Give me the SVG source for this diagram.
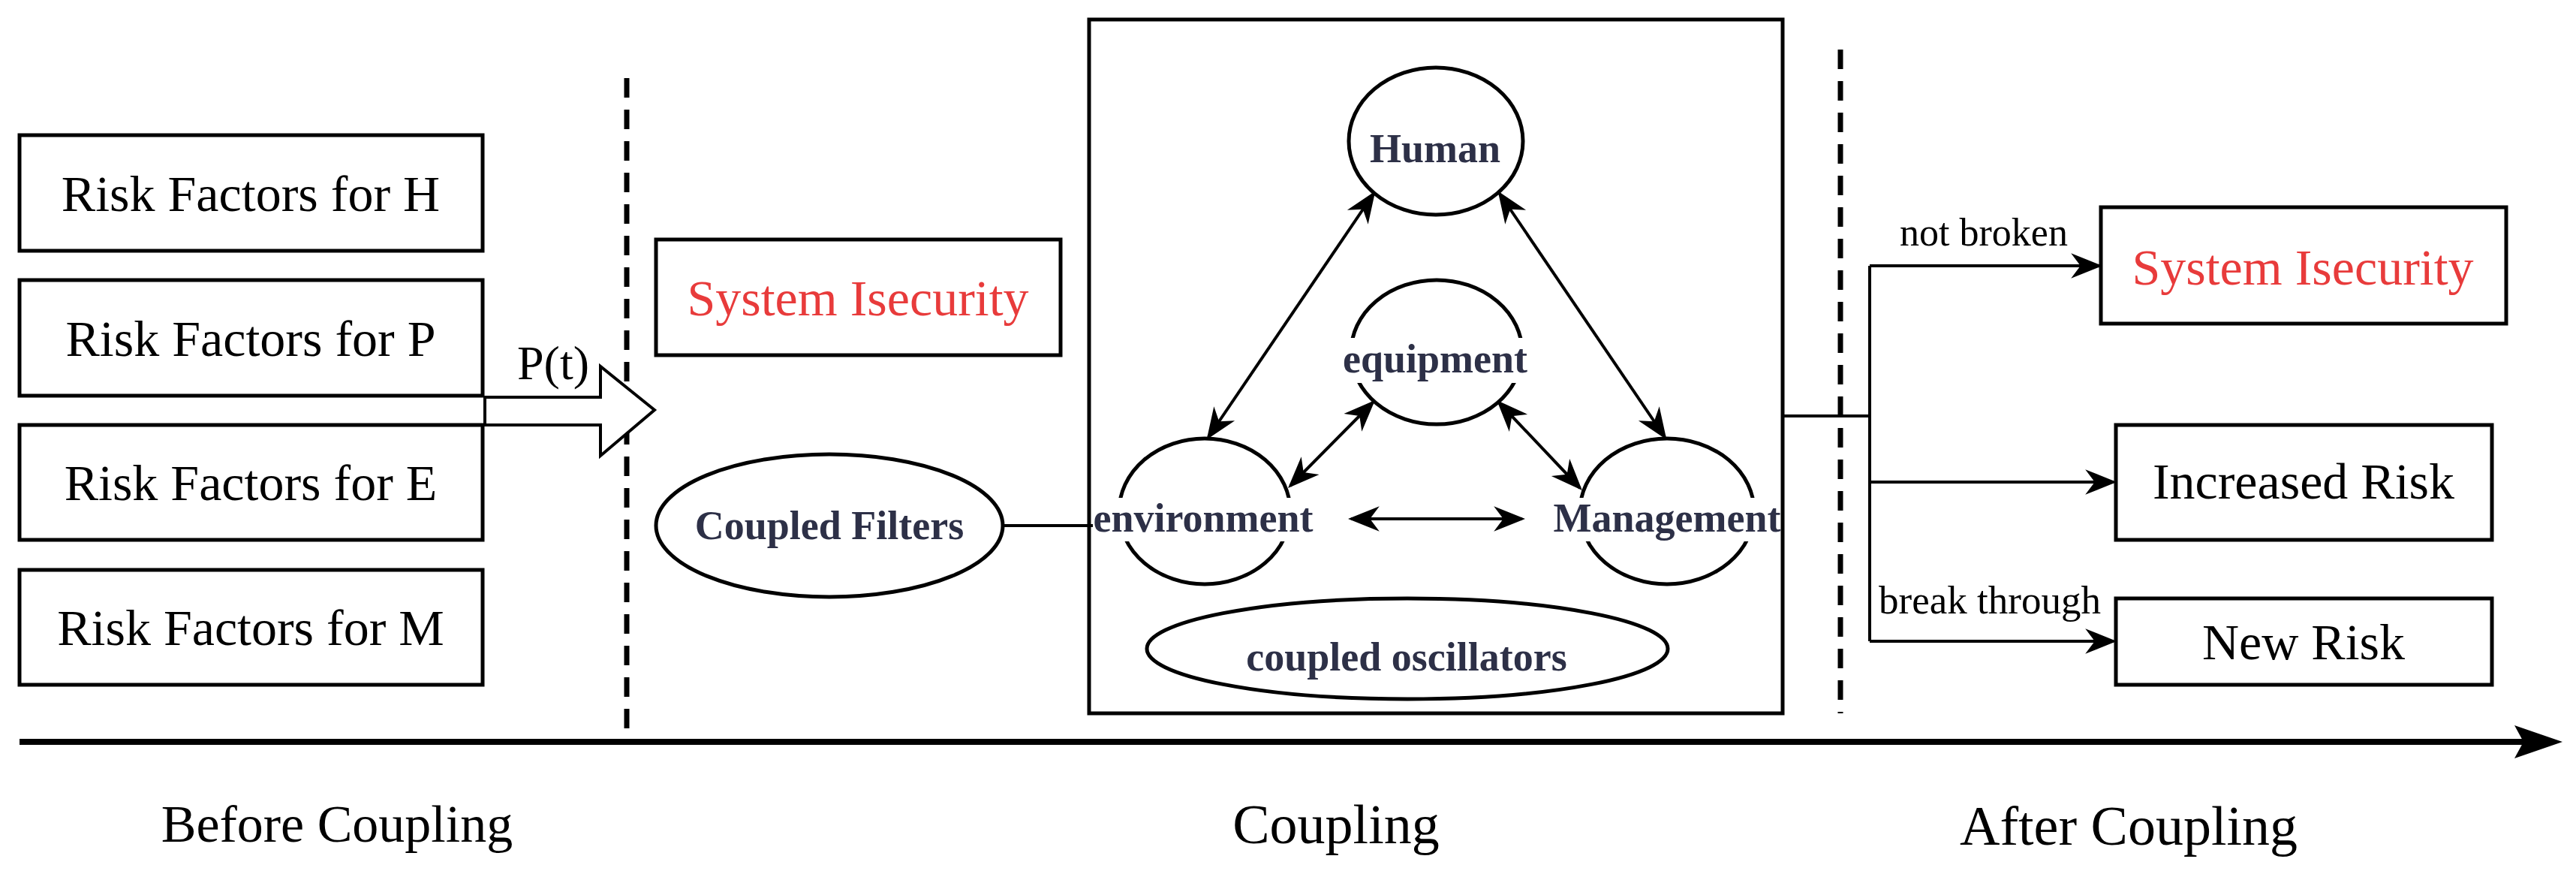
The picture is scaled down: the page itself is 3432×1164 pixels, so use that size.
<svg xmlns="http://www.w3.org/2000/svg" width="3432" height="1164" viewBox="0 0 3432 1164">
<style>
.box{fill:#fff;stroke:#000;stroke-width:5}
.frame{fill:none;stroke:#000;stroke-width:5}
.t{font-family:"Liberation Serif",serif;fill:#000;text-anchor:middle}
.big{font-size:68px}
.b{font-family:"Liberation Serif",serif;font-weight:bold;fill:#2d3047;font-size:54px;text-anchor:middle}
.red{fill:#e83b3b}
.ln{fill:none;stroke:#000;stroke-width:4}
.dash{stroke:#000;stroke-width:7;stroke-dasharray:26 16}
</style>
<defs>
<marker id="a2" viewBox="0 0 10 10" refX="9" refY="5" markerWidth="42" markerHeight="42" orient="auto-start-reverse" markerUnits="userSpaceOnUse">
<path d="M0,1 L10,5 L0,9 L3,5 z" fill="#000"/>
</marker>
</defs>
<rect width="3432" height="1164" fill="#fff"/>
<g id="couplingBox"><rect class="frame" x="1451" y="26" width="924" height="924"/></g>
<g id="dividers">
<line class="dash" x1="835" y1="104" x2="835" y2="987"/>
<line class="dash" x1="2452" y1="66" x2="2452" y2="950"/>
</g>
<g id="connectors">
<line x1="26" y1="988" x2="3380" y2="988" stroke="#000" stroke-width="8"/>
<path d="M3350,966 L3414,988 L3350,1010 L3362,988 z" fill="#000"/>
<polygon points="646,529 800,529 800,488 872,546 800,607 800,566 646,566" fill="#fff" stroke="#000" stroke-width="4"/>
<line class="ln" x1="1337" y1="700" x2="1460" y2="700"/>
<line class="ln" x1="1830" y1="258" x2="1610" y2="582" marker-start="url(#a2)" marker-end="url(#a2)"/>
<line class="ln" x1="1998" y1="258" x2="2218" y2="582" marker-start="url(#a2)" marker-end="url(#a2)"/>
<line class="ln" x1="1829" y1="536" x2="1719" y2="647" marker-start="url(#a2)" marker-end="url(#a2)"/>
<line class="ln" x1="1997" y1="536" x2="2105" y2="650" marker-start="url(#a2)" marker-end="url(#a2)"/>
<line class="ln" x1="1800" y1="691" x2="2028" y2="691" marker-start="url(#a2)" marker-end="url(#a2)"/>
<polyline class="ln" points="2375,554 2491,554"/>
<line class="ln" x1="2491" y1="354" x2="2491" y2="854"/>
<line class="ln" x1="2491" y1="354" x2="2797" y2="354" marker-end="url(#a2)"/>
<line class="ln" x1="2491" y1="642" x2="2816" y2="642" marker-end="url(#a2)"/>
<line class="ln" x1="2491" y1="854" x2="2816" y2="854" marker-end="url(#a2)"/>
<text class="t" x="2643" y="327" font-size="52">not broken</text>
<text class="t" x="2651" y="817" font-size="53">break through</text>
<text class="t" x="737" y="505" font-size="64">P(t)</text>
</g>
<g id="riskH"><rect class="box" x="26" y="180" width="617" height="154"/><text class="t big" x="334" y="281">Risk Factors for H</text></g>
<g id="riskP"><rect class="box" x="26" y="373" width="617" height="154"/><text class="t big" x="334" y="474">Risk Factors for P</text></g>
<g id="riskE"><rect class="box" x="26" y="566" width="617" height="153"/><text class="t big" x="334" y="666">Risk Factors for E</text></g>
<g id="riskM"><rect class="box" x="26" y="759" width="617" height="153"/><text class="t big" x="334" y="859">Risk Factors for M</text></g>
<g id="sysInsec1"><rect class="box" x="874" y="319" width="539" height="154"/><text class="t big red" x="1143" y="420">System Isecurity</text></g>
<g id="coupledFilters"><ellipse class="box" cx="1105" cy="700" rx="231" ry="95"/><text class="b" x="1105" y="718">Coupled Filters</text></g>
<g id="human"><ellipse class="box" cx="1913" cy="188" rx="116" ry="98"/><text class="b" x="1912" y="216">Human</text></g>
<g id="equipment"><ellipse class="box" cx="1914" cy="469" rx="114" ry="96"/><rect x="1789" y="450" width="246" height="60" fill="#fff"/><text class="b" x="1912" y="496">equipment</text></g>
<g id="environment"><ellipse class="box" cx="1605" cy="681" rx="114" ry="97"/><rect x="1456" y="663" width="294" height="58" fill="#fff"/><text class="b" x="1603" y="708">environment</text></g>
<g id="management"><ellipse class="box" cx="2221" cy="681" rx="116" ry="97"/><rect x="2070" y="663" width="302" height="58" fill="#fff"/><text class="b" x="2221" y="708">Management</text></g>
<g id="oscillators"><ellipse class="box" cx="1875" cy="864" rx="347" ry="67"/><text class="b" x="1874" y="893">coupled oscillators</text></g>
<g id="sysInsec2"><rect class="box" x="2799" y="276" width="540" height="155"/><text class="t big red" x="3068" y="379">System Isecurity</text></g>
<g id="increased"><rect class="box" x="2819" y="566" width="501" height="153"/><text class="t big" x="3069" y="664">Increased Risk</text></g>
<g id="newRisk"><rect class="box" x="2819" y="797" width="501" height="115"/><text class="t big" x="3069" y="878">New Risk</text></g>
<g id="phases">
<text class="t" x="449" y="1121" font-size="70">Before Coupling</text>
<text class="t" x="1780" y="1123" font-size="74">Coupling</text>
<text class="t" x="2836" y="1125" font-size="74">After Coupling</text>
</g>
</svg>
